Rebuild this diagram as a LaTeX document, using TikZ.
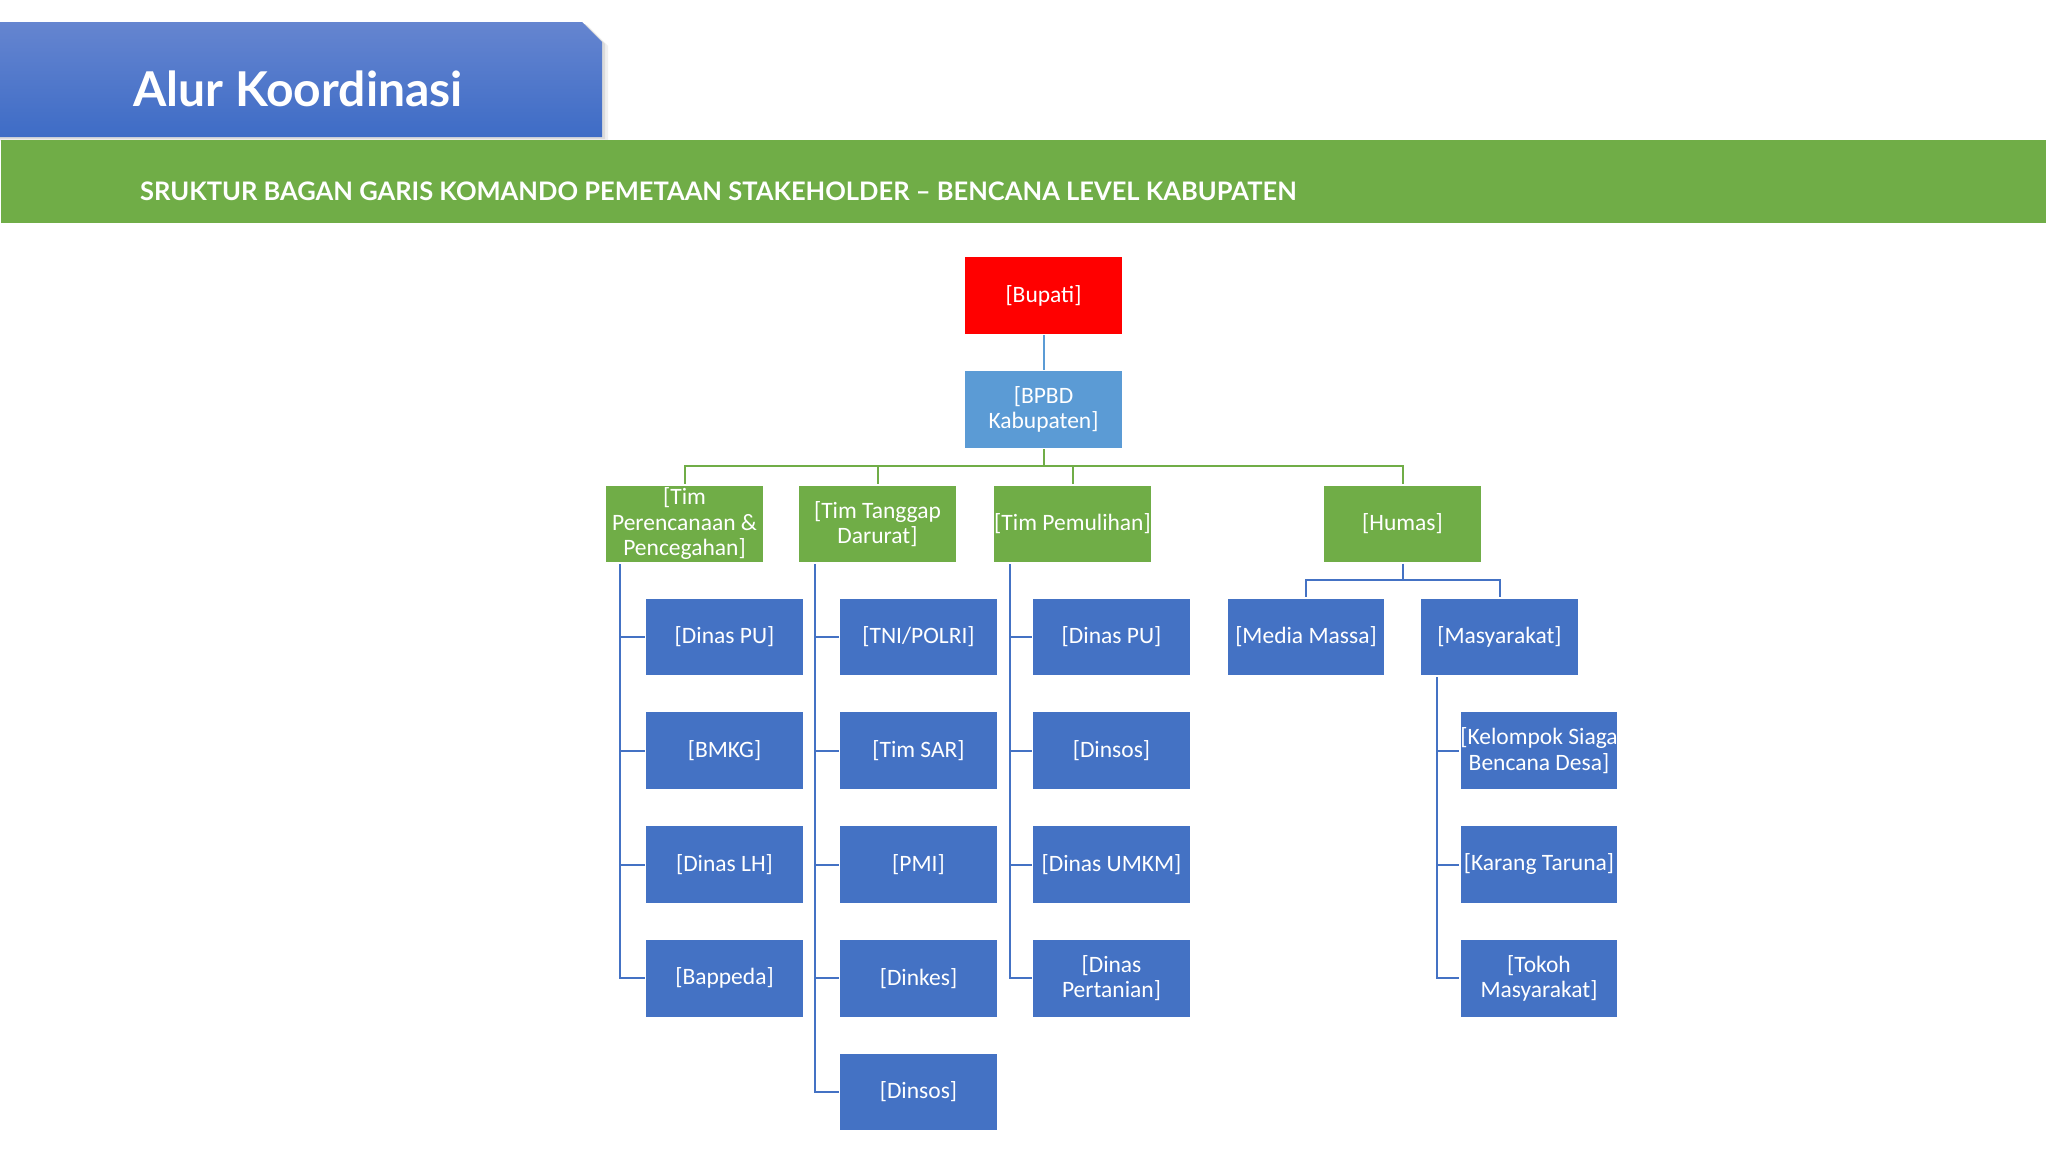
\documentclass[tikz,border=0pt]{standalone}
\usepackage{fontspec}
\setmainfont{Carlito}
\newfontfamily\hfont{Lato}
\begin{document}
\begin{tikzpicture}[x=1pt,y=-1pt,
  box/.style={rectangle, minimum width=158pt, minimum height=78pt, draw=white, line width=1.2pt,
    text=white, align=center, inner sep=0pt, font=\fontsize{23.5}{25.5}\selectfont},
  redbox/.style={box, fill=red},
  lbbox/.style={box, fill=lightblue},
  grbox/.style={box, fill=midgreen},
  blbox/.style={box, fill=midblue},
  lbline/.style={draw=lightblue, line width=2pt},
  grline/.style={draw=midgreen, line width=2pt},
  blline/.style={draw=midblue, line width=2pt}]
\definecolor{lightblue}{HTML}{5B9BD5}
\definecolor{midgreen}{HTML}{70AD47}
\definecolor{midblue}{HTML}{4472C4}
\definecolor{tabtop}{HTML}{6585D0}
\definecolor{tabbot}{HTML}{3E6CC6}
\useasboundingbox (0,0) rectangle (2048,1152);
\fill[white] (0,0) rectangle (2048,1152);
% header tab with soft shadow
\fill[black!6] (0,25) -- (587,25) -- (608,46) -- (608,141) -- (0,141) -- cycle;
\fill[black!14] (0,24) -- (585,24) -- (605,44) -- (605,139) -- (0,139) -- cycle;
\shade[top color=tabtop, bottom color=tabbot] (0,22) -- (582,22) -- (602,42) -- (602,137) -- (0,137) -- cycle;
\node[anchor=west, text=white, font=\hfont\bfseries\fontsize{48}{54}\selectfont, inner sep=0pt] (title) at (133,89) {Alur Koordinasi};
% green band
\fill[midgreen] (1,140) rectangle (2046,223);
\node[anchor=west, text=white, font=\hfont\bfseries\fontsize{25.5}{30}\selectfont, inner sep=0pt] (subtitle) at (140,191) {SRUKTUR BAGAN GARIS KOMANDO PEMETAAN STAKEHOLDER – BENCANA LEVEL KABUPATEN};
% top
\node[redbox] (bupati) at (1043.5,295.5) {[Bupati]};
\node[lbbox] (bpbd) at (1043.5,409.5) {[BPBD\\Kabupaten]};
% teams
\node[grbox] (g1) at (684.5,524) {[Tim\\Perencanaan \&\\Pencegahan]};
\node[grbox] (g2) at (877.5,524) {[Tim Tanggap\\Darurat]};
\node[grbox] (g3) at (1072.5,524) {[Tim Pemulihan]};
\node[grbox] (g4) at (1402.5,524) {[Humas]};
% column 1
\node[blbox] (a1) at (724.5,637) {[Dinas PU]};
\node[blbox] (a2) at (724.5,750.75) {[BMKG]};
\node[blbox] (a3) at (724.5,864.5) {[Dinas LH]};
\node[blbox] (a4) at (724.5,978.25) {[Bappeda]};
% column 2
\node[blbox] (b1) at (918.5,637) {[TNI/POLRI]};
\node[blbox] (b2) at (918.5,750.75) {[Tim SAR]};
\node[blbox] (b3) at (918.5,864.5) {[PMI]};
\node[blbox] (b4) at (918.5,978.25) {[Dinkes]};
\node[blbox] (b5) at (918.5,1092) {[Dinsos]};
% column 3
\node[blbox] (c1) at (1111.5,637) {[Dinas PU]};
\node[blbox] (c2) at (1111.5,750.75) {[Dinsos]};
\node[blbox] (c3) at (1111.5,864.5) {[Dinas UMKM]};
\node[blbox] (c4) at (1111.5,978.25) {[Dinas\\Pertanian]};
% humas
\node[blbox] (mm) at (1306,637) {[Media Massa]};
\node[blbox] (ms) at (1499.5,637) {[Masyarakat]};
\node[blbox] (d1) at (1539,750.75) {[Kelompok Siaga\\Bencana Desa]};
\node[blbox] (d2) at (1539,864.5) {[Karang Taruna]};
\node[blbox] (d3) at (1539,978.25) {[Tokoh\\Masyarakat]};
% connectors
\draw[lbline] (bupati.south) -- (bpbd.north);
\coordinate (bus) at (1043.5,466);
\draw[grline] (bpbd.south) -- (bus);
\draw[grline] (bus) -| (g1.north);
\draw[grline] (bus) -| (g2.north);
\draw[grline] (bus) -| (g3.north);
\draw[grline] (bus) -| (g4.north);
\coordinate (s1) at (620,564);
\coordinate (s2) at (815,564);
\coordinate (s3) at (1010,564);
\foreach \n in {a1,a2,a3,a4} \draw[blline] (s1) |- (\n.west);
\foreach \n in {b1,b2,b3,b4,b5} \draw[blline] (s2) |- (\n.west);
\foreach \n in {c1,c2,c3,c4} \draw[blline] (s3) |- (\n.west);
\coordinate (hbus) at (1402.5,580);
\draw[blline] (g4.south) -- (hbus);
\draw[blline] (hbus) -| (mm.north);
\draw[blline] (hbus) -| (ms.north);
\coordinate (s4) at (1437,677);
\foreach \n in {d1,d2,d3} \draw[blline] (s4) |- (\n.west);
\end{tikzpicture}
\end{document}
